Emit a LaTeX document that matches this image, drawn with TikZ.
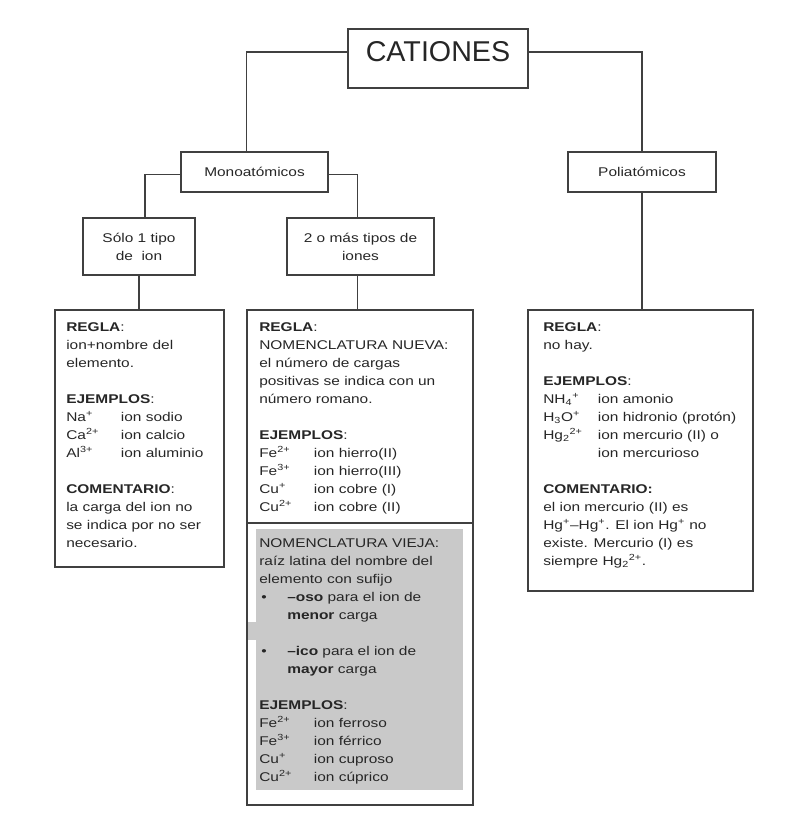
\documentclass[tikz,border=0pt]{standalone}
\usepackage{fontspec}
\setmainfont[FakeStretch=1.22]{Liberation Sans}
\newfontfamily\titlefont{Liberation Sans}
\usepackage{tikz}
\newcommand{\ionlbl}[1]{\makebox[41pt][l]{#1}}
\newcommand{\bul}{\hspace*{1.5pt}\makebox[19.5pt][l]{\textbullet}}
\tikzset{
  conn/.style={draw=black!75,line width=0.9pt},
  hbox/.style={draw=black!75,line width=0.9pt,inner sep=0pt,align=center,text=black!85,font=\fontsize{9.5}{13.5}\selectfont},
  bigbox/.style={draw=black!75,line width=1.1pt,inner sep=0pt},
  body/.style={anchor=north west,inner sep=0pt,align=left,text=black!85,font=\fontsize{9.5}{13.5}\selectfont},
  shade/.style={fill=black!21},
}
\begin{document}
\begin{tikzpicture}[x=0.75pt,y=-0.75pt]
  \useasboundingbox (0,0) rectangle (800,823);
  \node[hbox,minimum width=135pt,minimum height=44.25pt] (cat) at (438,58.5) {};
  \node[inner sep=0pt,text=black!85,font=\titlefont\fontsize{21.5}{24}\selectfont] (catlbl) at (438,52) {CATIONES};
  \node[hbox,minimum width=110.25pt,minimum height=30pt] (mono) at (254.5,172) {Monoatómicos};
  \node[hbox,minimum width=111pt,minimum height=30pt] (poli) at (642,172) {Poliatómicos};
  \node[hbox,minimum width=84pt,minimum height=42.75pt] (solo) at (139,246.5) {Sólo 1 tipo\\de\ \ ion};
  \node[hbox,minimum width=110.25pt,minimum height=42.75pt] (dos) at (360.5,246.5) {2 o más tipos de\\iones};
  \node[bigbox,minimum width=126.75pt,minimum height=192.75pt] (left) at (139.5,438.5) {};
  \node[bigbox,minimum width=169.5pt,minimum height=371.25pt] (mid) at (360,557.5) {};
  \node[bigbox,minimum width=168.75pt,minimum height=210.75pt] (right) at (640.5,450.5) {};
  \coordinate (div) at (360,523);
  \fill[shade] (256,529) rectangle (463,790);
  \fill[shade] (248,622) rectangle (256,640);
  \draw[bigbox] (mid.west |- div) -- (mid.east |- div);
  \draw[conn] (cat.west |- catlbl) -| ([xshift=-6pt]mono.north);
  \draw[conn] (cat.east |- catlbl) -| (poli.north);
  \draw[conn] ([yshift=-2pt]mono.west) -| ([xshift=4.5pt]solo.north);
  \draw[conn] ([yshift=-2pt]mono.east) -| ([xshift=-2pt]dos.north);
  \draw[conn] (solo.south) -- (solo.south |- left.north);
  \draw[conn] ([xshift=-2pt]dos.south) -- ([xshift=-2pt]dos.south |- mid.north);
  \draw[conn] (poli.south) -- (poli.south |- right.north);
  \node[body] (reglaA) at (66,322.5) {\textbf{REGLA}:\\
    ion+nombre del\\
    elemento.\\
    ~\\
    \textbf{EJEMPLOS}:\\
    \ionlbl{Na\textsuperscript{+}}ion sodio\\
    \ionlbl{Ca\textsuperscript{2+}}ion calcio\\
    \ionlbl{Al\textsuperscript{3+}}ion aluminio\\
    ~\\
    \textbf{COMENTARIO}:\\
    la carga del ion no\\
    se indica por no ser\\
    necesario.};
  \node[body] (reglaB) at (259,322.5) {\textbf{REGLA}:\\
    NOMENCLATURA NUEVA:\\
    el número de cargas\\
    positivas se indica con un\\
    número romano.\\
    ~\\
    \textbf{EJEMPLOS}:\\
    \ionlbl{Fe\textsuperscript{2+}}ion hierro(II)\\
    \ionlbl{Fe\textsuperscript{3+}}ion hierro(III)\\
    \ionlbl{Cu\textsuperscript{+}}ion cobre (I)\\
    \ionlbl{Cu\textsuperscript{2+}}ion cobre (II)};
  \node[body] (vieja) at (259,538.5) {NOMENCLATURA VIEJA:\\
    raíz latina del nombre del\\
    elemento con sufijo\\
    \bul\textbf{--oso} para el ion de\\
    \hspace*{21pt}\textbf{menor} carga\\
    ~\\
    \bul\textbf{--ico} para el ion de\\
    \hspace*{21pt}\textbf{mayor} carga\\
    ~\\
    \textbf{EJEMPLOS}:\\
    \ionlbl{Fe\textsuperscript{2+}}ion ferroso\\
    \ionlbl{Fe\textsuperscript{3+}}ion férrico\\
    \ionlbl{Cu\textsuperscript{+}}ion cuproso\\
    \ionlbl{Cu\textsuperscript{2+}}ion cúprico};
  \node[body] (reglaC) at (543,322.5) {\textbf{REGLA}:\\
    no hay.\\
    ~\\
    \textbf{EJEMPLOS}:\\
    \ionlbl{NH\textsubscript{4}\textsuperscript{+}}ion amonio\\
    \ionlbl{H\textsubscript{3}O\textsuperscript{+}}ion hidronio (protón)\\
    \ionlbl{Hg\textsubscript{2}\textsuperscript{2+}}ion mercurio (II) o\\
    \ionlbl{}ion mercurioso\\
    ~\\
    \textbf{COMENTARIO:}\\
    el ion mercurio (II) es\\
    Hg\textsuperscript{+}--Hg\textsuperscript{+}. El ion Hg\textsuperscript{+} no\\
    existe. Mercurio (I) es\\
    siempre Hg\textsubscript{2}\textsuperscript{2+}.};
\end{tikzpicture}
\end{document}
